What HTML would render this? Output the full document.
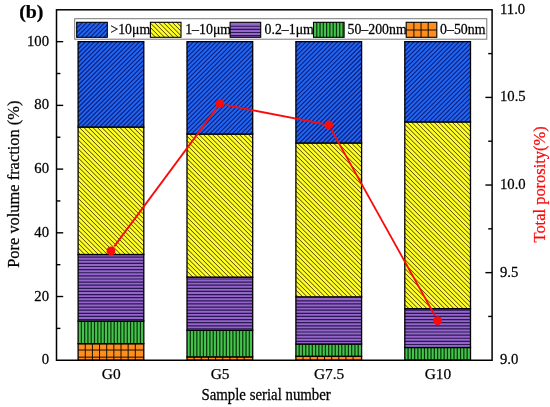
<!DOCTYPE html>
<html><head><meta charset="utf-8"><title>chart</title>
<style>
html,body{margin:0;padding:0;background:#fff;}
svg{display:block;font-family:'Liberation Serif', serif;}
</style></head><body>
<svg width="550" height="407" viewBox="0 0 550 407">
<rect width="550" height="407" fill="#ffffff"/>

<rect x="78.1" y="343.68" width="65.7" height="16.57" fill="#ff8f1c"/>
<path d="M85.25,343.68V360.25M92.4,343.68V360.25M99.55,343.68V360.25M106.7,343.68V360.25M113.85,343.68V360.25M121,343.68V360.25M128.15,343.68V360.25M135.3,343.68V360.25M78.1,350H143.8M78.1,357.15H143.8" stroke="#1a0c00" stroke-width="1.0" fill="none"/>
<rect x="78.1" y="343.68" width="65.7" height="16.57" fill="none" stroke="#000" stroke-width="1.3"/>
<rect x="78.1" y="321.06" width="65.7" height="22.62" fill="#44c44c"/>
<path d="M81.38,321.06V343.68M84.66,321.06V343.68M87.94,321.06V343.68M91.22,321.06V343.68M94.5,321.06V343.68M97.78,321.06V343.68M101.06,321.06V343.68M104.34,321.06V343.68M107.62,321.06V343.68M110.9,321.06V343.68M114.18,321.06V343.68M117.46,321.06V343.68M120.74,321.06V343.68M124.02,321.06V343.68M127.3,321.06V343.68M130.58,321.06V343.68M133.86,321.06V343.68M137.14,321.06V343.68M140.42,321.06V343.68" stroke="#0a330a" stroke-width="1.2" fill="none"/>
<rect x="78.1" y="321.06" width="65.7" height="22.62" fill="none" stroke="#000" stroke-width="1.3"/>
<rect x="78.1" y="254.48" width="65.7" height="66.59" fill="#9565cc"/>
<path d="M78.1,257.14H143.8M78.1,260.26H143.8M78.1,263.38H143.8M78.1,266.5H143.8M78.1,269.62H143.8M78.1,272.74H143.8M78.1,275.86H143.8M78.1,278.98H143.8M78.1,282.1H143.8M78.1,285.22H143.8M78.1,288.34H143.8M78.1,291.46H143.8M78.1,294.58H143.8M78.1,297.7H143.8M78.1,300.82H143.8M78.1,303.94H143.8M78.1,307.06H143.8M78.1,310.18H143.8M78.1,313.3H143.8M78.1,316.42H143.8M78.1,319.54H143.8" stroke="#2a1850" stroke-width="1.2" fill="none"/>
<rect x="78.1" y="254.48" width="65.7" height="66.59" fill="none" stroke="#000" stroke-width="1.3"/>
<rect x="78.1" y="127.04" width="65.7" height="127.44" fill="#ffff28"/>
<path d="M78.1,252.25L80.33,254.48M78.1,247.75L84.83,254.48M78.1,243.25L89.33,254.48M78.1,238.75L93.83,254.48M78.1,234.25L98.33,254.48M78.1,229.75L102.83,254.48M78.1,225.25L107.33,254.48M78.1,220.75L111.83,254.48M78.1,216.25L116.33,254.48M78.1,211.75L120.83,254.48M78.1,207.25L125.33,254.48M78.1,202.75L129.83,254.48M78.1,198.25L134.33,254.48M78.1,193.75L138.83,254.48M78.1,189.25L143.33,254.48M78.1,184.75L143.8,250.45M78.1,180.25L143.8,245.95M78.1,175.75L143.8,241.45M78.1,171.25L143.8,236.95M78.1,166.75L143.8,232.45M78.1,162.25L143.8,227.95M78.1,157.75L143.8,223.45M78.1,153.25L143.8,218.95M78.1,148.75L143.8,214.45M78.1,144.25L143.8,209.95M78.1,139.75L143.8,205.45M78.1,135.25L143.8,200.95M78.1,130.75L143.8,196.45M78.89,127.04L143.8,191.95M83.39,127.04L143.8,187.45M87.89,127.04L143.8,182.95M92.39,127.04L143.8,178.45M96.89,127.04L143.8,173.95M101.39,127.04L143.8,169.45M105.89,127.04L143.8,164.95M110.39,127.04L143.8,160.45M114.89,127.04L143.8,155.95M119.39,127.04L143.8,151.45M123.89,127.04L143.8,146.95M128.39,127.04L143.8,142.45M132.89,127.04L143.8,137.95M137.39,127.04L143.8,133.45M141.89,127.04L143.8,128.95" stroke="#4a3c04" stroke-width="1.0" fill="none"/>
<rect x="78.1" y="127.04" width="65.7" height="127.44" fill="none" stroke="#000" stroke-width="1.3"/>
<rect x="78.1" y="41.66" width="65.7" height="85.38" fill="#1f66f2"/>
<path d="M78.1,44.75L81.19,41.66M78.1,49.25L85.69,41.66M78.1,53.75L90.19,41.66M78.1,58.25L94.69,41.66M78.1,62.75L99.19,41.66M78.1,67.25L103.69,41.66M78.1,71.75L108.19,41.66M78.1,76.25L112.69,41.66M78.1,80.75L117.19,41.66M78.1,85.25L121.69,41.66M78.1,89.75L126.19,41.66M78.1,94.25L130.69,41.66M78.1,98.75L135.19,41.66M78.1,103.25L139.69,41.66M78.1,107.75L143.8,42.05M78.1,112.25L143.8,46.55M78.1,116.75L143.8,51.05M78.1,121.25L143.8,55.55M78.1,125.75L143.8,60.05M81.31,127.04L143.8,64.55M85.81,127.04L143.8,69.05M90.31,127.04L143.8,73.55M94.81,127.04L143.8,78.05M99.31,127.04L143.8,82.55M103.81,127.04L143.8,87.05M108.31,127.04L143.8,91.55M112.81,127.04L143.8,96.05M117.31,127.04L143.8,100.55M121.81,127.04L143.8,105.05M126.31,127.04L143.8,109.55M130.81,127.04L143.8,114.05M135.31,127.04L143.8,118.55M139.81,127.04L143.8,123.05" stroke="#0e2080" stroke-width="1.2" fill="none"/>
<rect x="78.1" y="41.66" width="65.7" height="85.38" fill="none" stroke="#000" stroke-width="1.3"/>
<rect x="187" y="356.87" width="65.7" height="3.38" fill="#ff8f1c"/>
<path d="M194.15,356.87V360.25M201.3,356.87V360.25M208.45,356.87V360.25M215.6,356.87V360.25M222.75,356.87V360.25M229.9,356.87V360.25M237.05,356.87V360.25M244.2,356.87V360.25" stroke="#1a0c00" stroke-width="1.0" fill="none"/>
<rect x="187" y="356.87" width="65.7" height="3.38" fill="none" stroke="#000" stroke-width="1.3"/>
<rect x="187" y="330.3" width="65.7" height="26.57" fill="#44c44c"/>
<path d="M190.28,330.3V356.87M193.56,330.3V356.87M196.84,330.3V356.87M200.12,330.3V356.87M203.4,330.3V356.87M206.68,330.3V356.87M209.96,330.3V356.87M213.24,330.3V356.87M216.52,330.3V356.87M219.8,330.3V356.87M223.08,330.3V356.87M226.36,330.3V356.87M229.64,330.3V356.87M232.92,330.3V356.87M236.2,330.3V356.87M239.48,330.3V356.87M242.76,330.3V356.87M246.04,330.3V356.87M249.32,330.3V356.87" stroke="#0a330a" stroke-width="1.2" fill="none"/>
<rect x="187" y="330.3" width="65.7" height="26.57" fill="none" stroke="#000" stroke-width="1.3"/>
<rect x="187" y="277.1" width="65.7" height="53.2" fill="#9565cc"/>
<path d="M187,278.98H252.7M187,282.1H252.7M187,285.22H252.7M187,288.34H252.7M187,291.46H252.7M187,294.58H252.7M187,297.7H252.7M187,300.82H252.7M187,303.94H252.7M187,307.06H252.7M187,310.18H252.7M187,313.3H252.7M187,316.42H252.7M187,319.54H252.7M187,322.66H252.7M187,325.78H252.7M187,328.9H252.7" stroke="#2a1850" stroke-width="1.2" fill="none"/>
<rect x="187" y="277.1" width="65.7" height="53.2" fill="none" stroke="#000" stroke-width="1.3"/>
<rect x="187" y="134.05" width="65.7" height="143.05" fill="#ffff28"/>
<path d="M187,275.65L188.45,277.1M187,271.15L192.95,277.1M187,266.65L197.45,277.1M187,262.15L201.95,277.1M187,257.65L206.45,277.1M187,253.15L210.95,277.1M187,248.65L215.45,277.1M187,244.15L219.95,277.1M187,239.65L224.45,277.1M187,235.15L228.95,277.1M187,230.65L233.45,277.1M187,226.15L237.95,277.1M187,221.65L242.45,277.1M187,217.15L246.95,277.1M187,212.65L251.45,277.1M187,208.15L252.7,273.85M187,203.65L252.7,269.35M187,199.15L252.7,264.85M187,194.65L252.7,260.35M187,190.15L252.7,255.85M187,185.65L252.7,251.35M187,181.15L252.7,246.85M187,176.65L252.7,242.35M187,172.15L252.7,237.85M187,167.65L252.7,233.35M187,163.15L252.7,228.85M187,158.65L252.7,224.35M187,154.15L252.7,219.85M187,149.65L252.7,215.35M187,145.15L252.7,210.85M187,140.65L252.7,206.35M187,136.15L252.7,201.85M189.4,134.05L252.7,197.35M193.9,134.05L252.7,192.85M198.4,134.05L252.7,188.35M202.9,134.05L252.7,183.85M207.4,134.05L252.7,179.35M211.9,134.05L252.7,174.85M216.4,134.05L252.7,170.35M220.9,134.05L252.7,165.85M225.4,134.05L252.7,161.35M229.9,134.05L252.7,156.85M234.4,134.05L252.7,152.35M238.9,134.05L252.7,147.85M243.4,134.05L252.7,143.35M247.9,134.05L252.7,138.85" stroke="#4a3c04" stroke-width="1.0" fill="none"/>
<rect x="187" y="134.05" width="65.7" height="143.05" fill="none" stroke="#000" stroke-width="1.3"/>
<rect x="187" y="41.66" width="65.7" height="92.39" fill="#1f66f2"/>
<path d="M187,43.85L189.19,41.66M187,48.35L193.69,41.66M187,52.85L198.19,41.66M187,57.35L202.69,41.66M187,61.85L207.19,41.66M187,66.35L211.69,41.66M187,70.85L216.19,41.66M187,75.35L220.69,41.66M187,79.85L225.19,41.66M187,84.35L229.69,41.66M187,88.85L234.19,41.66M187,93.35L238.69,41.66M187,97.85L243.19,41.66M187,102.35L247.69,41.66M187,106.85L252.19,41.66M187,111.35L252.7,45.65M187,115.85L252.7,50.15M187,120.35L252.7,54.65M187,124.85L252.7,59.15M187,129.35L252.7,63.65M187,133.85L252.7,68.15M191.3,134.05L252.7,72.65M195.8,134.05L252.7,77.15M200.3,134.05L252.7,81.65M204.8,134.05L252.7,86.15M209.3,134.05L252.7,90.65M213.8,134.05L252.7,95.15M218.3,134.05L252.7,99.65M222.8,134.05L252.7,104.15M227.3,134.05L252.7,108.65M231.8,134.05L252.7,113.15M236.3,134.05L252.7,117.65M240.8,134.05L252.7,122.15M245.3,134.05L252.7,126.65M249.8,134.05L252.7,131.15" stroke="#0e2080" stroke-width="1.2" fill="none"/>
<rect x="187" y="41.66" width="65.7" height="92.39" fill="none" stroke="#000" stroke-width="1.3"/>
<rect x="295.9" y="356.27" width="65.7" height="3.98" fill="#ff8f1c"/>
<path d="M303.05,356.27V360.25M310.2,356.27V360.25M317.35,356.27V360.25M324.5,356.27V360.25M331.65,356.27V360.25M338.8,356.27V360.25M345.95,356.27V360.25M353.1,356.27V360.25" stroke="#1a0c00" stroke-width="1.0" fill="none"/>
<rect x="295.9" y="356.27" width="65.7" height="3.98" fill="none" stroke="#000" stroke-width="1.3"/>
<rect x="295.9" y="344" width="65.7" height="12.27" fill="#44c44c"/>
<path d="M299.18,344V356.27M302.46,344V356.27M305.74,344V356.27M309.02,344V356.27M312.3,344V356.27M315.58,344V356.27M318.86,344V356.27M322.14,344V356.27M325.42,344V356.27M328.7,344V356.27M331.98,344V356.27M335.26,344V356.27M338.54,344V356.27M341.82,344V356.27M345.1,344V356.27M348.38,344V356.27M351.66,344V356.27M354.94,344V356.27M358.22,344V356.27" stroke="#0a330a" stroke-width="1.2" fill="none"/>
<rect x="295.9" y="344" width="65.7" height="12.27" fill="none" stroke="#000" stroke-width="1.3"/>
<rect x="295.9" y="296.85" width="65.7" height="47.15" fill="#9565cc"/>
<path d="M295.9,300.82H361.6M295.9,303.94H361.6M295.9,307.06H361.6M295.9,310.18H361.6M295.9,313.3H361.6M295.9,316.42H361.6M295.9,319.54H361.6M295.9,322.66H361.6M295.9,325.78H361.6M295.9,328.9H361.6M295.9,332.02H361.6M295.9,335.14H361.6M295.9,338.26H361.6M295.9,341.38H361.6" stroke="#2a1850" stroke-width="1.2" fill="none"/>
<rect x="295.9" y="296.85" width="65.7" height="47.15" fill="none" stroke="#000" stroke-width="1.3"/>
<rect x="295.9" y="142.97" width="65.7" height="153.88" fill="#ffff28"/>
<path d="M295.9,294.55L298.2,296.85M295.9,290.05L302.7,296.85M295.9,285.55L307.2,296.85M295.9,281.05L311.7,296.85M295.9,276.55L316.2,296.85M295.9,272.05L320.7,296.85M295.9,267.55L325.2,296.85M295.9,263.05L329.7,296.85M295.9,258.55L334.2,296.85M295.9,254.05L338.7,296.85M295.9,249.55L343.2,296.85M295.9,245.05L347.7,296.85M295.9,240.55L352.2,296.85M295.9,236.05L356.7,296.85M295.9,231.55L361.2,296.85M295.9,227.05L361.6,292.75M295.9,222.55L361.6,288.25M295.9,218.05L361.6,283.75M295.9,213.55L361.6,279.25M295.9,209.05L361.6,274.75M295.9,204.55L361.6,270.25M295.9,200.05L361.6,265.75M295.9,195.55L361.6,261.25M295.9,191.05L361.6,256.75M295.9,186.55L361.6,252.25M295.9,182.05L361.6,247.75M295.9,177.55L361.6,243.25M295.9,173.05L361.6,238.75M295.9,168.55L361.6,234.25M295.9,164.05L361.6,229.75M295.9,159.55L361.6,225.25M295.9,155.05L361.6,220.75M295.9,150.55L361.6,216.25M295.9,146.05L361.6,211.75M297.32,142.97L361.6,207.25M301.82,142.97L361.6,202.75M306.32,142.97L361.6,198.25M310.82,142.97L361.6,193.75M315.32,142.97L361.6,189.25M319.82,142.97L361.6,184.75M324.32,142.97L361.6,180.25M328.82,142.97L361.6,175.75M333.32,142.97L361.6,171.25M337.82,142.97L361.6,166.75M342.32,142.97L361.6,162.25M346.82,142.97L361.6,157.75M351.32,142.97L361.6,153.25M355.82,142.97L361.6,148.75M360.32,142.97L361.6,144.25" stroke="#4a3c04" stroke-width="1.0" fill="none"/>
<rect x="295.9" y="142.97" width="65.7" height="153.88" fill="none" stroke="#000" stroke-width="1.3"/>
<rect x="295.9" y="41.66" width="65.7" height="101.31" fill="#1f66f2"/>
<path d="M295.9,42.95L297.19,41.66M295.9,47.45L301.69,41.66M295.9,51.95L306.19,41.66M295.9,56.45L310.69,41.66M295.9,60.95L315.19,41.66M295.9,65.45L319.69,41.66M295.9,69.95L324.19,41.66M295.9,74.45L328.69,41.66M295.9,78.95L333.19,41.66M295.9,83.45L337.69,41.66M295.9,87.95L342.19,41.66M295.9,92.45L346.69,41.66M295.9,96.95L351.19,41.66M295.9,101.45L355.69,41.66M295.9,105.95L360.19,41.66M295.9,110.45L361.6,44.75M295.9,114.95L361.6,49.25M295.9,119.45L361.6,53.75M295.9,123.95L361.6,58.25M295.9,128.45L361.6,62.75M295.9,132.95L361.6,67.25M295.9,137.45L361.6,71.75M295.9,141.95L361.6,76.25M299.38,142.97L361.6,80.75M303.88,142.97L361.6,85.25M308.38,142.97L361.6,89.75M312.88,142.97L361.6,94.25M317.38,142.97L361.6,98.75M321.88,142.97L361.6,103.25M326.38,142.97L361.6,107.75M330.88,142.97L361.6,112.25M335.38,142.97L361.6,116.75M339.88,142.97L361.6,121.25M344.38,142.97L361.6,125.75M348.88,142.97L361.6,130.25M353.38,142.97L361.6,134.75M357.88,142.97L361.6,139.25" stroke="#0e2080" stroke-width="1.2" fill="none"/>
<rect x="295.9" y="41.66" width="65.7" height="101.31" fill="none" stroke="#000" stroke-width="1.3"/>
<rect x="404.8" y="347.51" width="65.7" height="12.74" fill="#44c44c"/>
<path d="M408.08,347.51V360.25M411.36,347.51V360.25M414.64,347.51V360.25M417.92,347.51V360.25M421.2,347.51V360.25M424.48,347.51V360.25M427.76,347.51V360.25M431.04,347.51V360.25M434.32,347.51V360.25M437.6,347.51V360.25M440.88,347.51V360.25M444.16,347.51V360.25M447.44,347.51V360.25M450.72,347.51V360.25M454,347.51V360.25M457.28,347.51V360.25M460.56,347.51V360.25M463.84,347.51V360.25M467.12,347.51V360.25" stroke="#0a330a" stroke-width="1.2" fill="none"/>
<rect x="404.8" y="347.51" width="65.7" height="12.74" fill="none" stroke="#000" stroke-width="1.3"/>
<rect x="404.8" y="308.64" width="65.7" height="38.87" fill="#9565cc"/>
<path d="M404.8,310.18H470.5M404.8,313.3H470.5M404.8,316.42H470.5M404.8,319.54H470.5M404.8,322.66H470.5M404.8,325.78H470.5M404.8,328.9H470.5M404.8,332.02H470.5M404.8,335.14H470.5M404.8,338.26H470.5M404.8,341.38H470.5M404.8,344.5H470.5" stroke="#2a1850" stroke-width="1.2" fill="none"/>
<rect x="404.8" y="308.64" width="65.7" height="38.87" fill="none" stroke="#000" stroke-width="1.3"/>
<rect x="404.8" y="121.94" width="65.7" height="186.69" fill="#ffff28"/>
<path d="M404.8,304.45L408.99,308.64M404.8,299.95L413.49,308.64M404.8,295.45L417.99,308.64M404.8,290.95L422.49,308.64M404.8,286.45L426.99,308.64M404.8,281.95L431.49,308.64M404.8,277.45L435.99,308.64M404.8,272.95L440.49,308.64M404.8,268.45L444.99,308.64M404.8,263.95L449.49,308.64M404.8,259.45L453.99,308.64M404.8,254.95L458.49,308.64M404.8,250.45L462.99,308.64M404.8,245.95L467.49,308.64M404.8,241.45L470.5,307.15M404.8,236.95L470.5,302.65M404.8,232.45L470.5,298.15M404.8,227.95L470.5,293.65M404.8,223.45L470.5,289.15M404.8,218.95L470.5,284.65M404.8,214.45L470.5,280.15M404.8,209.95L470.5,275.65M404.8,205.45L470.5,271.15M404.8,200.95L470.5,266.65M404.8,196.45L470.5,262.15M404.8,191.95L470.5,257.65M404.8,187.45L470.5,253.15M404.8,182.95L470.5,248.65M404.8,178.45L470.5,244.15M404.8,173.95L470.5,239.65M404.8,169.45L470.5,235.15M404.8,164.95L470.5,230.65M404.8,160.45L470.5,226.15M404.8,155.95L470.5,221.65M404.8,151.45L470.5,217.15M404.8,146.95L470.5,212.65M404.8,142.45L470.5,208.15M404.8,137.95L470.5,203.65M404.8,133.45L470.5,199.15M404.8,128.95L470.5,194.65M404.8,124.45L470.5,190.15M406.79,121.94L470.5,185.65M411.29,121.94L470.5,181.15M415.79,121.94L470.5,176.65M420.29,121.94L470.5,172.15M424.79,121.94L470.5,167.65M429.29,121.94L470.5,163.15M433.79,121.94L470.5,158.65M438.29,121.94L470.5,154.15M442.79,121.94L470.5,149.65M447.29,121.94L470.5,145.15M451.79,121.94L470.5,140.65M456.29,121.94L470.5,136.15M460.79,121.94L470.5,131.65M465.29,121.94L470.5,127.15M469.79,121.94L470.5,122.65" stroke="#4a3c04" stroke-width="1.0" fill="none"/>
<rect x="404.8" y="121.94" width="65.7" height="186.69" fill="none" stroke="#000" stroke-width="1.3"/>
<rect x="404.8" y="41.66" width="65.7" height="80.28" fill="#1f66f2"/>
<path d="M404.8,42.05L405.19,41.66M404.8,46.55L409.69,41.66M404.8,51.05L414.19,41.66M404.8,55.55L418.69,41.66M404.8,60.05L423.19,41.66M404.8,64.55L427.69,41.66M404.8,69.05L432.19,41.66M404.8,73.55L436.69,41.66M404.8,78.05L441.19,41.66M404.8,82.55L445.69,41.66M404.8,87.05L450.19,41.66M404.8,91.55L454.69,41.66M404.8,96.05L459.19,41.66M404.8,100.55L463.69,41.66M404.8,105.05L468.19,41.66M404.8,109.55L470.5,43.85M404.8,114.05L470.5,48.35M404.8,118.55L470.5,52.85M405.91,121.94L470.5,57.35M410.41,121.94L470.5,61.85M414.91,121.94L470.5,66.35M419.41,121.94L470.5,70.85M423.91,121.94L470.5,75.35M428.41,121.94L470.5,79.85M432.91,121.94L470.5,84.35M437.41,121.94L470.5,88.85M441.91,121.94L470.5,93.35M446.41,121.94L470.5,97.85M450.91,121.94L470.5,102.35M455.41,121.94L470.5,106.85M459.91,121.94L470.5,111.35M464.41,121.94L470.5,115.85M468.91,121.94L470.5,120.35" stroke="#0e2080" stroke-width="1.2" fill="none"/>
<rect x="404.8" y="41.66" width="65.7" height="80.28" fill="none" stroke="#000" stroke-width="1.3"/>
<rect x="56.5" y="9.8" width="435.60" height="350.45" fill="none" stroke="#000" stroke-width="1.5"/>
<text transform="translate(49,364.25) scale(1.0,1.05)" font-size="14.7" text-anchor="end" fill="#000" stroke="#000" stroke-width="0.25">0</text>
<path d="M56.5,328.39 h3.9" stroke="#000" stroke-width="1.4"/>
<path d="M56.5,296.53 h6.7" stroke="#000" stroke-width="1.4"/>
<text transform="translate(49,300.53) scale(1.0,1.05)" font-size="14.7" text-anchor="end" fill="#000" stroke="#000" stroke-width="0.25">20</text>
<path d="M56.5,264.67 h3.9" stroke="#000" stroke-width="1.4"/>
<path d="M56.5,232.81 h6.7" stroke="#000" stroke-width="1.4"/>
<text transform="translate(49,236.81) scale(1.0,1.05)" font-size="14.7" text-anchor="end" fill="#000" stroke="#000" stroke-width="0.25">40</text>
<path d="M56.5,200.95 h3.9" stroke="#000" stroke-width="1.4"/>
<path d="M56.5,169.10 h6.7" stroke="#000" stroke-width="1.4"/>
<text transform="translate(49,173.1) scale(1.0,1.05)" font-size="14.7" text-anchor="end" fill="#000" stroke="#000" stroke-width="0.25">60</text>
<path d="M56.5,137.24 h3.9" stroke="#000" stroke-width="1.4"/>
<path d="M56.5,105.38 h6.7" stroke="#000" stroke-width="1.4"/>
<text transform="translate(49,109.38) scale(1.0,1.05)" font-size="14.7" text-anchor="end" fill="#000" stroke="#000" stroke-width="0.25">80</text>
<path d="M56.5,73.52 h3.9" stroke="#000" stroke-width="1.4"/>
<path d="M56.5,41.66 h6.7" stroke="#000" stroke-width="1.4"/>
<text transform="translate(49,45.66) scale(1.0,1.05)" font-size="14.7" text-anchor="end" fill="#000" stroke="#000" stroke-width="0.25">100</text>
<text transform="translate(500,364.15) scale(1.0,1.05)" font-size="14.7" text-anchor="start" fill="#000" stroke="#000" stroke-width="0.25">9.0</text>
<path d="M492.1,316.44 h-3.9" stroke="#000" stroke-width="1.4"/>
<path d="M492.1,272.64 h-6.7" stroke="#000" stroke-width="1.4"/>
<text transform="translate(500,276.54) scale(1.0,1.05)" font-size="14.7" text-anchor="start" fill="#000" stroke="#000" stroke-width="0.25">9.5</text>
<path d="M492.1,228.83 h-3.9" stroke="#000" stroke-width="1.4"/>
<path d="M492.1,185.03 h-6.7" stroke="#000" stroke-width="1.4"/>
<text transform="translate(500,188.93) scale(1.0,1.05)" font-size="14.7" text-anchor="start" fill="#000" stroke="#000" stroke-width="0.25">10.0</text>
<path d="M492.1,141.22 h-3.9" stroke="#000" stroke-width="1.4"/>
<path d="M492.1,97.41 h-6.7" stroke="#000" stroke-width="1.4"/>
<text transform="translate(500,101.31) scale(1.0,1.05)" font-size="14.7" text-anchor="start" fill="#000" stroke="#000" stroke-width="0.25">10.5</text>
<path d="M492.1,53.61 h-3.9" stroke="#000" stroke-width="1.4"/>
<text transform="translate(500,13.7) scale(1.0,1.05)" font-size="14.7" text-anchor="start" fill="#000" stroke="#000" stroke-width="0.25">11.0</text>
<text transform="translate(111.25,379)" font-size="15.4" text-anchor="middle" fill="#000" stroke="#000" stroke-width="0.25">G0</text>
<text transform="translate(220.15,379)" font-size="15.4" text-anchor="middle" fill="#000" stroke="#000" stroke-width="0.25">G5</text>
<text transform="translate(329.05,379)" font-size="15.4" text-anchor="middle" fill="#000" stroke="#000" stroke-width="0.25">G7.5</text>
<text transform="translate(437.95,379)" font-size="15.4" text-anchor="middle" fill="#000" stroke="#000" stroke-width="0.25">G10</text>
<text transform="translate(266.1,399.9) scale(1.0,1.09)" font-size="14.85" text-anchor="middle" fill="#000" stroke="#000" stroke-width="0.25">Sample serial number</text>
<text transform="translate(19.2,184.2) rotate(-90) scale(0.954,1.0)" font-size="17.2" text-anchor="middle" fill="#000" stroke="#000" stroke-width="0.25">Pore volume fraction (%)</text>
<text transform="translate(544.6,184.4) rotate(-90) scale(0.94,1.0)" font-size="17.5" text-anchor="middle" fill="#fa0a0a" stroke="#fa0a0a" stroke-width="0.25">Total porosity(%)</text>
<text transform="translate(19.2,17.9) scale(1.11,1.0)" font-size="17.9" text-anchor="start" fill="#000" stroke="#000" stroke-width="0.25" font-weight="bold">(b)</text>
<path d="M114.28,246.41L216.52,108.40" stroke="#fa0a0a" stroke-width="1.8" fill="none"/>
<path d="M225.35,104.96L323.25,123.86" stroke="#fa0a0a" stroke-width="1.8" fill="none"/>
<path d="M331.47,129.82L434.93,315.76" stroke="#fa0a0a" stroke-width="1.8" fill="none"/>
<circle cx="110.95" cy="250.91" r="4.45" fill="#fa0a0a"/>
<circle cx="219.85" cy="103.90" r="4.45" fill="#fa0a0a"/>
<circle cx="328.75" cy="124.92" r="4.45" fill="#fa0a0a"/>
<circle cx="437.65" cy="320.65" r="4.45" fill="#fa0a0a"/>
<rect x="74.7" y="18.7" width="412.1" height="20.5" fill="#fff" stroke="#777" stroke-width="1"/>
<rect x="76.7" y="22.3" width="30.6" height="15" fill="#1f66f2"/>
<path d="M76.7,23.65L78.05,22.3M76.7,28.15L82.55,22.3M76.7,32.65L87.05,22.3M76.7,37.15L91.55,22.3M81.05,37.3L96.05,22.3M85.55,37.3L100.55,22.3M90.05,37.3L105.05,22.3M94.55,37.3L107.3,24.55M99.05,37.3L107.3,29.05M103.55,37.3L107.3,33.55" stroke="#0e2080" stroke-width="1.2" fill="none"/>
<rect x="76.7" y="22.3" width="30.6" height="15" fill="none" stroke="#000" stroke-width="1.1"/>
<text transform="translate(110.4,34) scale(1.0,1.03)" font-size="13.85" text-anchor="start" fill="#000" stroke="#000" stroke-width="0.25">&gt;10μm</text>
<rect x="150.4" y="22.3" width="30.6" height="15" fill="#ffff28"/>
<path d="M150.4,36.55L151.15,37.3M150.4,32.05L155.65,37.3M150.4,27.55L160.15,37.3M150.4,23.05L164.65,37.3M154.15,22.3L169.15,37.3M158.65,22.3L173.65,37.3M163.15,22.3L178.15,37.3M167.65,22.3L181,35.65M172.15,22.3L181,31.15M176.65,22.3L181,26.65" stroke="#4a3c04" stroke-width="1.0" fill="none"/>
<rect x="150.4" y="22.3" width="30.6" height="15" fill="none" stroke="#000" stroke-width="1.1"/>
<text transform="translate(185.2,34) scale(1.0,1.03)" font-size="13.85" text-anchor="start" fill="#000" stroke="#000" stroke-width="0.25">1–10μm</text>
<rect x="230.1" y="22.3" width="30.6" height="15" fill="#9565cc"/>
<path d="M230.1,26.26H260.7M230.1,29.38H260.7M230.1,32.5H260.7M230.1,35.62H260.7" stroke="#2a1850" stroke-width="1.2" fill="none"/>
<rect x="230.1" y="22.3" width="30.6" height="15" fill="none" stroke="#000" stroke-width="1.1"/>
<text transform="translate(264.5,34) scale(1.0,1.03)" font-size="13.85" text-anchor="start" fill="#000" stroke="#000" stroke-width="0.25">0.2–1μm</text>
<rect x="313.5" y="22.3" width="30.6" height="15" fill="#44c44c"/>
<path d="M316.78,22.3V37.3M320.06,22.3V37.3M323.34,22.3V37.3M326.62,22.3V37.3M329.9,22.3V37.3M333.18,22.3V37.3M336.46,22.3V37.3M339.74,22.3V37.3M343.02,22.3V37.3" stroke="#0a330a" stroke-width="1.2" fill="none"/>
<rect x="313.5" y="22.3" width="30.6" height="15" fill="none" stroke="#000" stroke-width="1.1"/>
<text transform="translate(347.5,34) scale(1.0,1.03)" font-size="13.85" text-anchor="start" fill="#000" stroke="#000" stroke-width="0.25">50–200nm</text>
<rect x="406.2" y="22.3" width="30.6" height="15" fill="#ff8f1c"/>
<path d="M413.9,22.3V37.3M421.05,22.3V37.3M428.2,22.3V37.3M406.2,30H436.8" stroke="#1a0c00" stroke-width="1.0" fill="none"/>
<rect x="406.2" y="22.3" width="30.6" height="15" fill="none" stroke="#000" stroke-width="1.1"/>
<text transform="translate(440.1,34) scale(1.0,1.03)" font-size="13.85" text-anchor="start" fill="#000" stroke="#000" stroke-width="0.25">0–50nm</text>
</svg></body></html>
